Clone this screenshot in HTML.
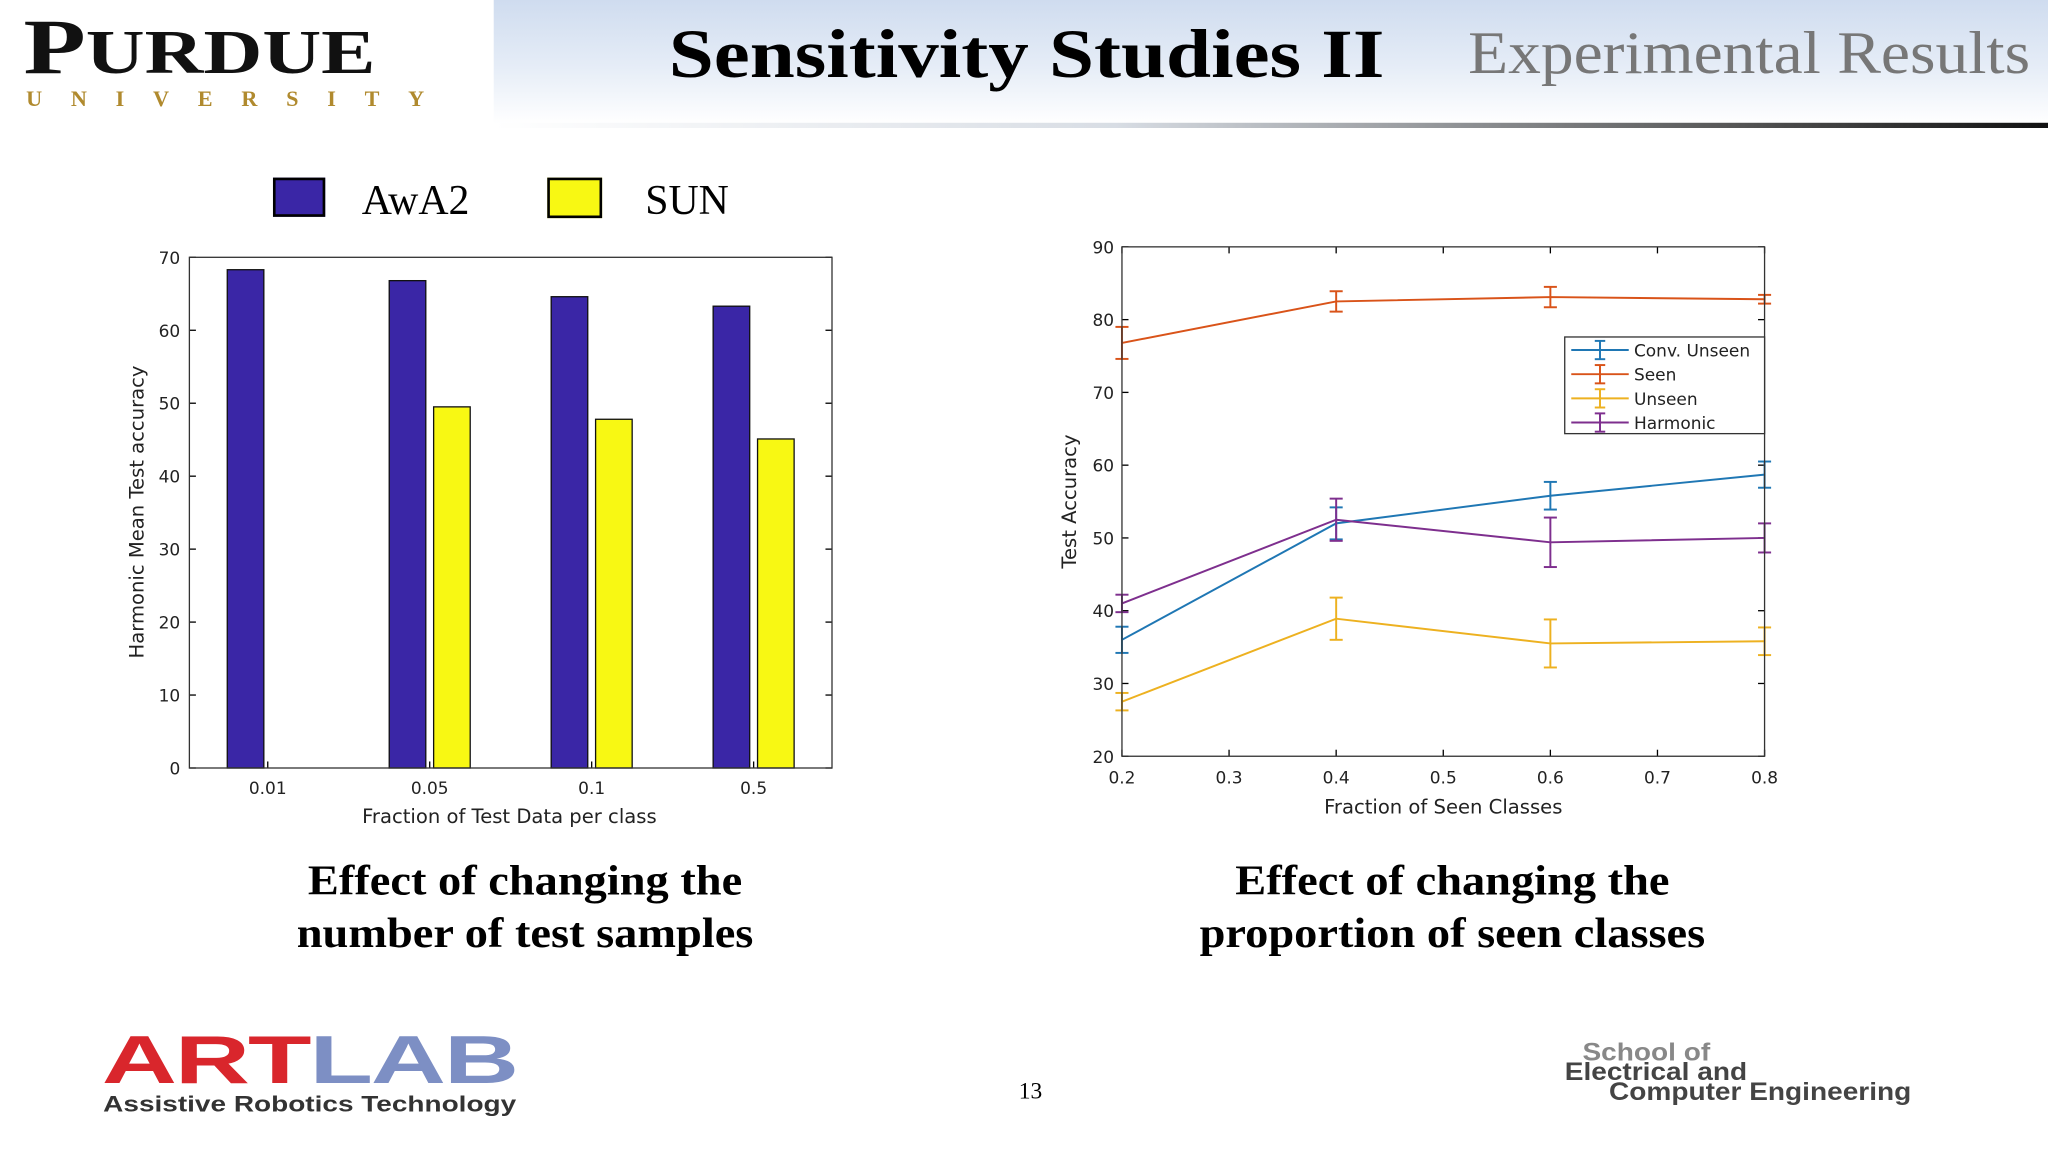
<!DOCTYPE html>
<html><head><meta charset="utf-8">
<style>
html,body{margin:0;padding:0;background:#fff;overflow:hidden}
#page{position:absolute;left:0;top:0;width:1568px;height:882px;transform:scale(1.306122);transform-origin:0 0;background:#fff;font-family:"Liberation Serif",serif}
.abs{position:absolute}
</style></head><body>
<div id="page">
  <div class="abs" style="left:378px;top:0;width:1190px;height:95px;background:linear-gradient(to bottom,#cfdcef 0%,#e6edf7 55%,#ffffff 100%)"></div>
  <div class="abs" style="left:378px;top:94px;width:1190px;height:4px;background:linear-gradient(to right,#ffffff 0%,#d8dde4 40%,#555 80%,#111 100%)"></div>
  <div class="abs" style="left:18px;top:2px;font-family:'Liberation Serif',serif;font-weight:bold;font-size:60px;color:#111;transform:scaleX(1.3);transform-origin:0 0">P<span style="font-size:48px">URDUE</span></div>
  <div class="abs" style="left:20px;top:66px;font-family:'Liberation Serif',serif;font-weight:bold;font-size:17px;color:#b08a2e;letter-spacing:22px">UNIVERSITY</div>
  <div class="abs" style="left:512px;top:12px;font-weight:bold;font-size:53px;color:#000;transform:scaleX(1.17);transform-origin:0 0;white-space:nowrap">Sensitivity Studies II</div>
  <div class="abs" style="left:1124px;top:14px;font-size:46px;color:#777;transform:scaleX(1.09);transform-origin:0 0;white-space:nowrap">Experimental Results</div>

  <div class="abs" style="left:209px;top:136px;width:40px;height:30px;background:#3a26a6;border:2px solid #000;box-sizing:border-box"></div>
  <div class="abs" style="left:277px;top:135px;font-size:32px">AwA2</div>
  <div class="abs" style="left:419px;top:136px;width:42px;height:31px;background:#f8f813;border:2px solid #000;box-sizing:border-box"></div>
  <div class="abs" style="left:494px;top:135px;font-size:32px">SUN</div>

  <svg class="abs" style="left:0;top:0" width="1568" height="882">
    <g id="bar"></g>
    <g id="line"></g>
  </svg>

  <div class="abs" style="left:202px;top:654px;width:400px;text-align:center;font-weight:bold;font-size:32px;line-height:40px;transform:scaleX(1.11);transform-origin:50% 0">Effect of changing the<br>number of test samples</div>
  <div class="abs" style="left:892px;top:654px;width:440px;text-align:center;font-weight:bold;font-size:32px;line-height:40px;transform:scaleX(1.11);transform-origin:50% 0">Effect of changing the<br>proportion of seen classes</div>

  <div class="abs" style="left:78px;top:786px;font-family:'Liberation Sans',sans-serif;font-weight:bold;font-size:52px;line-height:52px;letter-spacing:-1px;transform:scaleX(1.53);transform-origin:0 0;white-space:nowrap"><span style="color:#d9262c">ART</span><span style="color:#7d8fc4">LAB</span></div>
  <div class="abs" style="left:79px;top:836px;font-family:'Liberation Sans',sans-serif;font-weight:bold;font-size:17px;color:#333;transform:scaleX(1.26);transform-origin:0 0;white-space:nowrap">Assistive Robotics Technology</div>
  <div class="abs" style="left:780px;top:825px;font-size:18px">13</div>
  <div class="abs" style="left:1198px;top:799px;font-family:'Liberation Sans',sans-serif;font-weight:bold;font-size:19px;line-height:15px;color:#444;transform:scaleX(1.13);transform-origin:0 0;white-space:nowrap"><span style="margin-left:12px;color:#888">School of</span><br>Electrical and<br><span style="margin-left:30px">Computer Engineering</span></div>
</div>
<script>
const NS='http://www.w3.org/2000/svg';
function mk(p,t,a,txt){const e=document.createElementNS(NS,t);for(const k in a)e.setAttribute(k,a[k]);if(txt!==undefined)e.textContent=txt;p.appendChild(e);return e;}

// ---- bar chart data ----
const barCategories=['0.01','0.05','0.1','0.5'];
const awa2Values=[68.3,66.8,64.6,63.3];
const sunValues=[0,49.5,47.8,45.1];
const barYTicks=[0,10,20,30,40,50,60,70];

// ---- line chart data ----
const lineX=[0.2,0.4,0.6,0.8];
const convUnseen=[36,52,55.8,58.7];
const convUnseenErr=[1.8,2.2,1.9,1.8];
const seen=[76.8,82.5,83.1,82.8];
const seenErr=[2.2,1.4,1.4,0.6];
const unseen=[27.5,38.9,35.5,35.8];
const unseenErr=[1.2,2.9,3.3,1.9];
const harmonic=[41,52.5,49.4,50];
const harmonicErr=[1.2,2.9,3.4,2.0];
const lineXTicks=[0.2,0.3,0.4,0.5,0.6,0.7,0.8];
const lineYTicks=[20,30,40,50,60,70,80,90];

const sans='"DejaVu Sans","Liberation Sans",sans-serif';
// bar chart
(function(){
  const g=document.getElementById('bar');
  const L=145,R=637,T=197,B=588;
  const y=v=>B-(v-0)/70*(B-T);
  const x0=205,step=124;
  const xc=i=>x0+i*step;
  barYTicks.forEach(t=>{
    mk(g,'line',{x1:L,x2:L+5,y1:y(t),y2:y(t),stroke:'#000'});
    mk(g,'line',{x1:R,x2:R-5,y1:y(t),y2:y(t),stroke:'#000'});
    const e=mk(g,'text',{x:L-7,y:y(t)+5,'text-anchor':'end','font-size':13,'font-family':sans,fill:'#222'},t);
    
  });
  barCategories.forEach((c,i)=>{
    mk(g,'line',{x1:xc(i),x2:xc(i),y1:B,y2:B-5,stroke:'#000'});
    const e=mk(g,'text',{x:xc(i),y:B+20,'text-anchor':'middle','font-size':13,'font-family':sans,fill:'#222'},c);
    
    if(awa2Values[i]>0){const r=mk(g,'rect',{x:xc(i)-31,y:y(awa2Values[i]),width:28,height:B-y(awa2Values[i]),fill:'#3a26a6',stroke:'#111','stroke-width':1});
      }
    if(sunValues[i]>0){const r=mk(g,'rect',{x:xc(i)+3,y:y(sunValues[i]),width:28,height:B-y(sunValues[i]),fill:'#f8f813',stroke:'#111','stroke-width':1});
      }
  });
  mk(g,'rect',{x:L,y:T,width:R-L,height:B-T,fill:'none',stroke:'#333','stroke-width':1});
  const xt=mk(g,'text',{x:390,y:630,'text-anchor':'middle','font-size':15,'font-family':sans,fill:'#222'},'Fraction of Test Data per class');
  
  const yt=mk(g,'text',{x:0,y:0,transform:'translate(110,392) rotate(-90)','text-anchor':'middle','font-size':15,'font-family':sans,fill:'#222'},'Harmonic Mean Test accuracy');
  
})();
// line chart
(function(){
  const g=document.getElementById('line');
  const L=859,R=1351,T=189,B=579;
  const x=v=>L+(v-0.2)/0.6*(R-L);
  const y=v=>B-(v-20)/70*(B-T);
  lineYTicks.forEach(t=>{
    mk(g,'line',{x1:L,x2:L+5,y1:y(t),y2:y(t),stroke:'#000'});
    mk(g,'line',{x1:R,x2:R-5,y1:y(t),y2:y(t),stroke:'#000'});
    const e=mk(g,'text',{x:L-6,y:y(t)+5,'text-anchor':'end','font-size':13,'font-family':sans,fill:'#222'},t);
    
  });
  lineXTicks.forEach(t=>{
    mk(g,'line',{x1:x(t),x2:x(t),y1:B,y2:B-5,stroke:'#000'});
    mk(g,'line',{x1:x(t),x2:x(t),y1:T,y2:T+5,stroke:'#000'});
    const e=mk(g,'text',{x:x(t),y:B+21,'text-anchor':'middle','font-size':13,'font-family':sans,fill:'#222'},t.toFixed(1));
    
  });
  const series=[[convUnseen,convUnseenErr,'#1f77b4','series-conv-unseen'],[seen,seenErr,'#d95319','series-seen'],[unseen,unseenErr,'#edb120','series-unseen'],[harmonic,harmonicErr,'#7e2f8e','series-harmonic']];
  series.forEach(([vals,errs,col,nm])=>{
    const pl=mk(g,'polyline',{points:vals.map((v,i)=>x(lineX[i])+','+y(v)).join(' '),fill:'none',stroke:col,'stroke-width':1.5});
    
    vals.forEach((v,i)=>{
      const cx=x(lineX[i]);
      mk(g,'line',{x1:cx,x2:cx,y1:y(v-errs[i]),y2:y(v+errs[i]),stroke:col,'stroke-width':1.5});
      mk(g,'line',{x1:cx-5,x2:cx+5,y1:y(v-errs[i]),y2:y(v-errs[i]),stroke:col,'stroke-width':1.5});
      mk(g,'line',{x1:cx-5,x2:cx+5,y1:y(v+errs[i]),y2:y(v+errs[i]),stroke:col,'stroke-width':1.5});
    });
  });
  mk(g,'rect',{x:L,y:T,width:R-L,height:B-T,fill:'none',stroke:'#333','stroke-width':1});
  const lg=mk(g,'g',{});
  
  mk(lg,'rect',{x:1198,y:258,width:153,height:74,fill:'#fff',stroke:'#333','stroke-width':1});
  const names=['Conv. Unseen','Seen','Unseen','Harmonic'];
  series.forEach((s,i)=>{
    const yy=268+i*18.5;
    mk(lg,'line',{x1:1203,x2:1247,y1:yy,y2:yy,stroke:s[2],'stroke-width':1.5});
    mk(lg,'line',{x1:1225,x2:1225,y1:yy-7,y2:yy+7,stroke:s[2],'stroke-width':1.5});
    mk(lg,'line',{x1:1221,x2:1229,y1:yy-7,y2:yy-7,stroke:s[2],'stroke-width':1.5});
    mk(lg,'line',{x1:1221,x2:1229,y1:yy+7,y2:yy+7,stroke:s[2],'stroke-width':1.5});
    const t=mk(lg,'text',{x:1251,y:yy+5,'font-size':13,'font-family':sans,fill:'#222'},names[i]);
    
  });
  const xt=mk(g,'text',{x:1105,y:623,'text-anchor':'middle','font-size':15,'font-family':sans,fill:'#222'},'Fraction of Seen Classes');
  
  const yt=mk(g,'text',{x:0,y:0,transform:'translate(824,384) rotate(-90)','text-anchor':'middle','font-size':15,'font-family':sans,fill:'#222'},'Test Accuracy');
  
})();
</script>
</body></html>
